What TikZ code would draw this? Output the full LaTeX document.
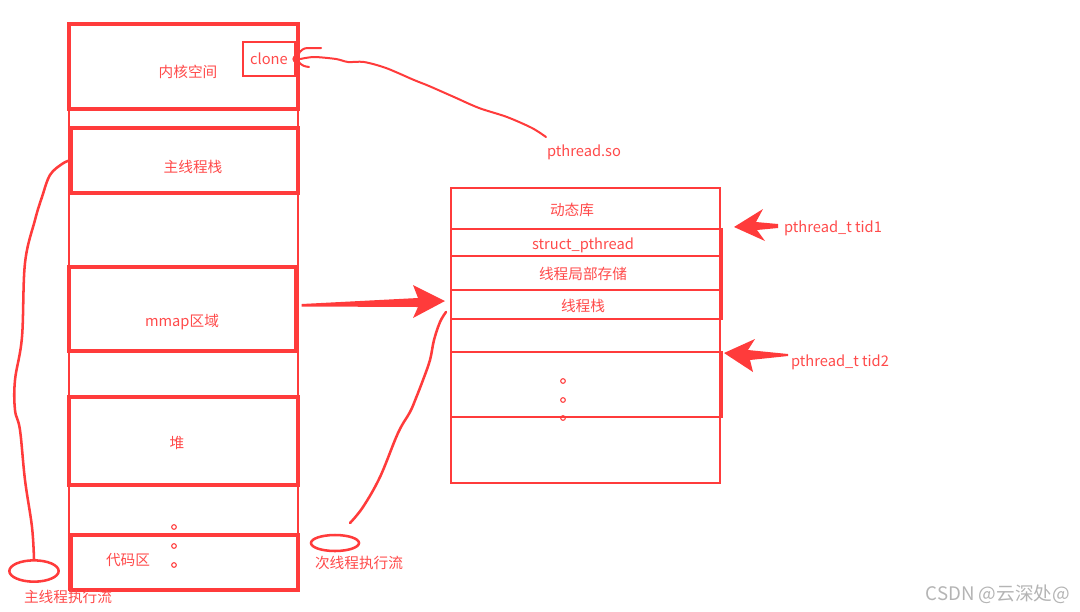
\documentclass[tikz,border=0pt]{standalone}
\usepackage{fontspec}
\setmainfont{Noto Sans CJK SC}
\usetikzlibrary{shapes.geometric,fit,calc}
\definecolor{memred}{HTML}{FF3B3B}
\definecolor{memtext}{HTML}{FF4A4A}
\definecolor{memgray}{HTML}{B4B4B4}

\begin{document}
\begin{tikzpicture}[
  x=0.75pt, y=-0.75pt,
  region/.style={draw=memred, line width=2.4pt, inner sep=0pt},
  frame/.style={draw=memred, line width=1.8pt},
  lbl/.style={text=memtext, font=\fontsize{11}{13}\selectfont, inner sep=1pt},
  flow/.style={draw=memred, line width=1.9pt, line cap=round, line join=round},
  spot/.style={circle, draw=memred, line width=0.8pt, inner sep=0pt, minimum size=3.5pt},
  loop/.style={ellipse, draw=memred, line width=1.9pt, inner sep=0pt},
  fatarrow/.style={fill=memred, draw=none}
]
\useasboundingbox (0,0) rectangle (1080,611);

% process address space
\draw[frame] (69,24) rectangle (298,590);
\node[region, fit={(69,24) (298,109)}] (kernel) {};
\node[region, fit={(71,128) (298,193)}] (mainstack) {};
\node[region, fit={(69,267) (296,351)}] (mmap) {};
\node[region, fit={(69,397) (298,485)}] (heap) {};
\node[region, fit={(71,535) (298,590)}] (code) {};
\node[region, line width=2.1pt, fit={(243,42) (295,76)}] (clone) {};

\node[lbl] (kernellbl) at (188,72) {内核空间};
\node[lbl] (clonelbl) at (clone.center) {clone};
\node[lbl] (mainstacklbl) at (193,167) {主线程栈};
\node[lbl] (mmaplbl) at (182,322) {mmap区域};
\node[lbl] (heaplbl) at (177,443) {堆};
\node[lbl] (codelbl) at (128,560) {代码区};
\foreach \y in {527,546,565}
  \node[spot] at (174,\y) {};

% shared library inside mmap
\draw[frame] (451,188) rectangle (720,483);
\node[lbl] (liblbl) at (572,210) {动态库};
\node[region, line width=2.1pt, fit={(451,229) (722,256)}] (tcb) {};
\node[region, line width=2.1pt, fit={(451,256) (722,290)}] (tls) {};
\node[region, line width=2.1pt, fit={(451,290) (722,319)}] (tstack) {};
\node[region, line width=2.1pt, fit={(451,352) (722,417)}] (tnext) {};
\node[lbl] at (583,245) {struct\_pthread};
\node[lbl] at (583,274) {线程局部存储};
\node[lbl] at (583,306) {线程栈};
\foreach \y in {381,400,418}
  \node[spot] at (563,\y) {};

% mmap -> library
\coordinate (mtail) at ($(mmap.east)+(4,-5)$);
\fill[fatarrow] (mtail) -- (418,298) -- (413,285) -- (445,301) -- (413,318) -- (418,307) -- ($(mtail)+(0,2.5)$) -- cycle;

% tid markers
\node[lbl] (tid1) at (833,228) {pthread\_t tid1};
\node[lbl] (tid2) at (840,362) {pthread\_t tid2};
\coordinate (t1) at (734,227);
\coordinate (t2) at (724,353);
\fill[fatarrow] (t1) -- ++(29,-18) -- ++(-7,13) -- ++(22,2) -- ++(0,4) -- ++(-21,2) -- ++(8,11) -- cycle;
\fill[fatarrow] (t2) -- ++(31,-14) -- ++(-7,11) -- ++(40,4) -- ++(0,2) -- ++(-38,4) -- ++(3,12) -- cycle;

% clone -> pthread.so
\node[lbl] (solbl) at (584,152) {pthread.so};
\node[circle, draw=memred, line width=1.5pt, minimum size=4.5pt, inner sep=0pt] (hook) at (clone.east) {};
\draw[flow, line width=1.5pt] (321,48) -- (307,48) .. controls (300,49) and (298,54) .. (298,58) .. controls (298,62) and (300,66) .. (309,67);
\draw[flow, line width=1.5pt] plot[smooth, tension=0.5] coordinates {(hook.east) (314,57) (336,59) (348,62) (364,62) (386,68) (414,80) (429,86) (454,97) (479,108) (507,117) (532,128) (546,137)};

% execution flows
\node[loop, minimum width=37pt, minimum height=16pt] (mainflow) at (34,571) {};
\node[lbl] (mainflowlbl) at (68,597) {主线程执行流};
\draw[flow] plot[smooth, tension=0.6] coordinates {(mainstack.west) (62,164) (50,175) (42,197) (35,220) (25,263) (22,337) (15,380) (15,410) (20,430) (25,480) (32,527) (mainflow.north)};

\node[loop, minimum width=36pt, minimum height=12pt] (subflow) at (335,543) {};
\node[lbl] (subflowlbl) at (359,563) {次线程执行流};
\coordinate (subtop) at (446,312);
\coordinate (subend) at (350,523);
\draw[flow] plot[smooth, tension=0.6] coordinates {(subtop) (440,322) (434,340) (430,360) (423,380) (416,398) (410,412) (398,433) (380,477) (363,507) (subend)};

% watermark
\node[text=memgray, font=\fontsize{14}{16}\selectfont, inner sep=0pt] (mark) at (998,594) {CSDN @云深处@};
\end{tikzpicture}
\end{document}
